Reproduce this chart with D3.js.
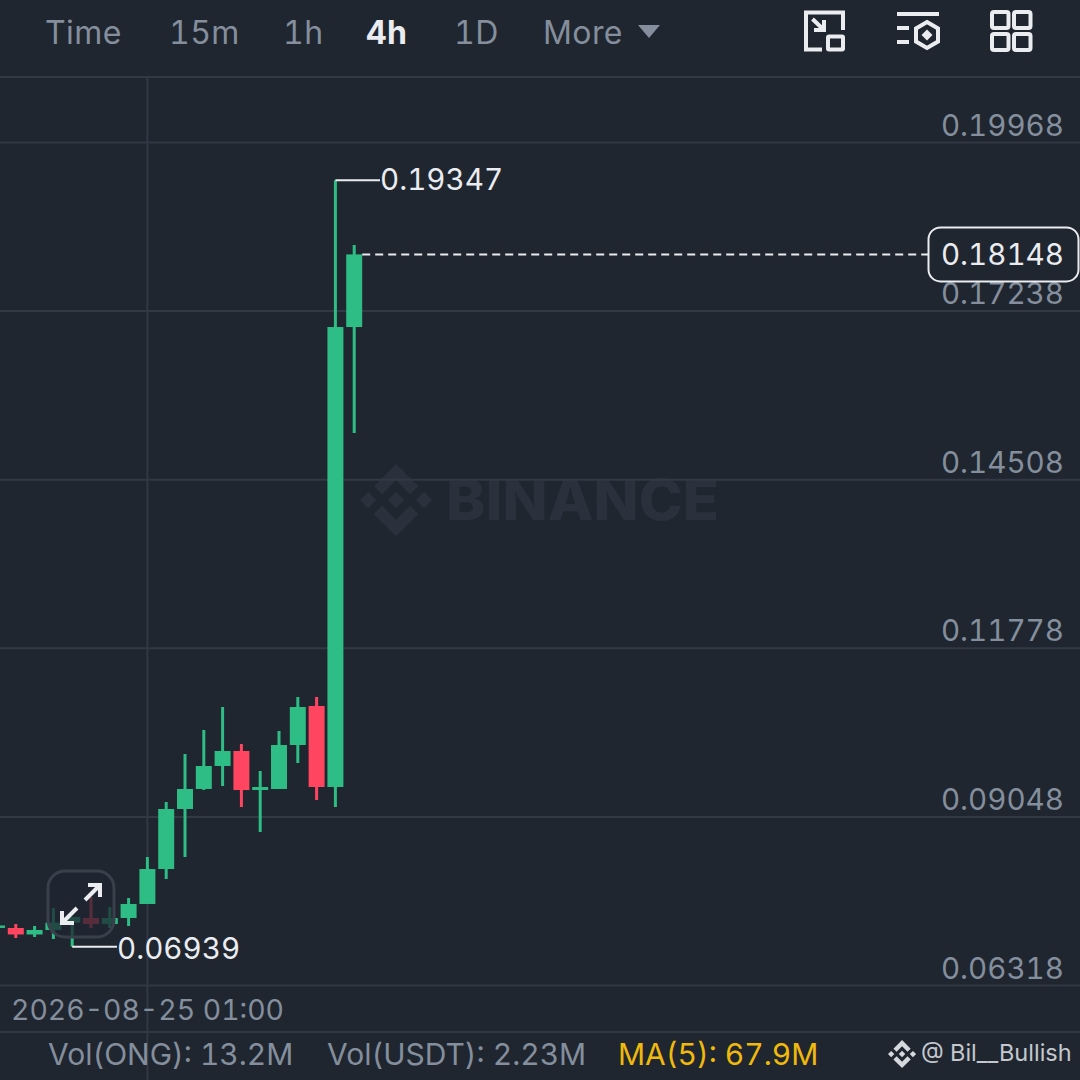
<!DOCTYPE html>
<html lang="en">

<head>
    <meta charset="utf-8">
    <title>ONG/USDT 4h</title>
    <script src="https://d3js.org/d3.v7.min.js"></script>
    <style>
        html, body { margin: 0; padding: 0; background: #1f2630; }
        svg { display: block; }
        text { font-family: Inter, "Noto Sans", sans-serif; font-variant-numeric: tabular-nums; font-feature-settings: "tnum" 1; }
    </style>
</head>

<body>
    <svg id="chart" width="1080" height="1080"></svg>

    <script type="text/javascript">
        // candles
        var times = ["08-23 17:00", "08-23 21:00", "08-24 01:00", "08-24 05:00", "08-24 09:00",
            "08-24 13:00", "08-24 17:00", "08-24 21:00", "08-25 01:00", "08-25 05:00",
            "08-25 09:00", "08-25 13:00", "08-25 17:00", "08-25 21:00", "08-26 01:00",
            "08-26 05:00", "08-26 09:00", "08-26 13:00", "08-26 17:00", "08-26 21:00"];
        var opens = [0.07250, 0.07241, 0.07136, 0.07209, 0.07327, 0.07403, 0.07306, 0.07403, 0.07630, 0.08196,
            0.09168, 0.09492, 0.09864, 0.10107, 0.09475, 0.09492, 0.10204, 0.10836, 0.09524, 0.16972];
        var closes = [0.07282, 0.07136, 0.07209, 0.07327, 0.07419, 0.07306, 0.07403, 0.07630, 0.08196, 0.09168,
            0.09492, 0.09864, 0.10107, 0.09475, 0.09524, 0.10204, 0.10819, 0.09524, 0.16972, 0.18148];
        var highs = [0.07300, 0.07306, 0.07273, 0.07565, 0.07419, 0.07743, 0.07581, 0.07727, 0.08391, 0.09281,
            0.10058, 0.10447, 0.10819, 0.10220, 0.09783, 0.10431, 0.10981, 0.10981, 0.19347, 0.18300];
        var lows = [0.07250, 0.07079, 0.07095, 0.07063, 0.06939, 0.07241, 0.07241, 0.07273, 0.07630, 0.08034,
            0.08391, 0.09475, 0.09540, 0.09200, 0.08795, 0.09492, 0.09913, 0.09314, 0.09200, 0.15256];

        var priceTicks = [0.19968, 0.17238, 0.14508, 0.11778, 0.09048, 0.06318];
        var lastPrice = 0.18148;
        var highMark = { index: 18, value: 0.19347 };
        var lowMark = { index: 4, value: 0.06939 };
        var crosshairTime = "08-25 01:00";

        var intervals = ["Time", "15m", "1h", "4h", "1D", "More"];
        var intervalX = [45, 169, 283, 366, 454, 543];
        var activeInterval = "4h";

        var bg = "#1f2630";
        var gridColor = "#323844";
        var green = "#2ebd85";
        var red = "#ff4560";
        var white = "#eaecef";
        var grey = "#848e9c";

        var svg = d3.select("#chart");

        svg.append("rect").attr("width", 1080).attr("height", 1080).attr("fill", bg);

        var xScale = d3.scaleBand()
            .domain(times)
            .range([-11, 362.2])
            .paddingInner(0.15)
            .paddingOuter(0);

        var yScale = d3.scaleLinear()
            .domain([0.06318, 0.19968])
            .range([985, 142]);

        function cx(i) {
            return xScale(times[i]) + xScale.bandwidth() / 2;
        }

        // frame lines
        [77, 1032].forEach(function(y) {
            svg.append("line").attr("x1", 0).attr("x2", 1080).attr("y1", y).attr("y2", y)
                .attr("stroke", gridColor).attr("stroke-width", 2);
        });

        // watermark
        var logoPath = "M38.73 53.2l24.59-24.58 24.6 24.6 14.3-14.31L63.32 0 24.43 38.9l14.3 14.3z" +
            "M0 63.31l14.3-14.31 14.31 14.31-14.31 14.3z" +
            "M38.73 73.41l24.59 24.59 24.6-24.6 14.31 14.29-38.9 38.91-38.91-38.88z" +
            "M98 63.31l14.3-14.31 14.31 14.3-14.31 14.32z" +
            "M77.83 63.3L63.32 48.78 48.81 63.28l14.51 14.5z";

        svg.append("path").attr("d", logoPath)
            .attr("transform", "translate(360,464) scale(0.57)")
            .attr("fill", "#2b313c");
        svg.append("text").text("BINANCE")
            .attr("x", 446).attr("y", 520)
            .attr("font-size", 56).attr("font-weight", 800)
            .attr("textLength", 273).attr("lengthAdjust", "spacingAndGlyphs")
            .attr("fill", "#2b313c");

        // price axis and grid
        var yAxis = d3.axisRight(yScale)
            .tickValues(priceTicks)
            .tickSize(1080)
            .tickFormat(d3.format(".5f"));

        var axisG = svg.append("g").attr("class", "y-axis").call(yAxis);
        axisG.select(".domain").remove();
        axisG.selectAll("line").attr("stroke", gridColor).attr("stroke-width", 2);
        axisG.selectAll("text")
            .attr("x", 1064).attr("dy", -15)
            .attr("dominant-baseline", "middle")
            .attr("text-anchor", "end")
            .attr("font-size", 29.6)
            .attr("font-family", "Inter, sans-serif")
            .attr("fill", grey);

        // crosshair
        svg.append("line")
            .attr("x1", cx(times.indexOf(crosshairTime))).attr("x2", cx(times.indexOf(crosshairTime)))
            .attr("y1", 78).attr("y2", 1080)
            .attr("stroke", gridColor).attr("stroke-width", 2);

        // candles
        var candles = times.map(function(t, i) {
            return { time: t, i: i, open: opens[i], close: closes[i], high: highs[i], low: lows[i] };
        });

        function candleColor(d) {
            return d.close >= d.open ? green : red;
        }

        var candleG = svg.append("g").attr("class", "candles");

        candleG.selectAll("line")
            .data(candles)
            .enter()
            .append("line")
            .attr("x1", function(d) { return cx(d.i); })
            .attr("x2", function(d) { return cx(d.i); })
            .attr("y1", function(d) { return yScale(d.high); })
            .attr("y2", function(d) { return yScale(d.low); })
            .attr("stroke", candleColor)
            .attr("stroke-width", 3);

        candleG.selectAll("rect")
            .data(candles)
            .enter()
            .append("rect")
            .attr("x", function(d) { return xScale(d.time); })
            .attr("width", xScale.bandwidth())
            .attr("y", function(d) { return yScale(Math.max(d.open, d.close)); })
            .attr("height", function(d) {
                return Math.max(2.5, Math.abs(yScale(d.open) - yScale(d.close)));
            })
            .attr("fill", candleColor);

        // high / low labels
        [[highMark, 380, 2], [lowMark, 117, 4]].forEach(function(m) {
            var mark = m[0];
            var y = yScale(mark.value);
            svg.append("line")
                .attr("x1", cx(mark.index)).attr("x2", m[1])
                .attr("y1", y).attr("y2", y)
                .attr("stroke", white).attr("stroke-width", 2);
            svg.append("text").text(d3.format(".5f")(mark.value))
                .attr("x", m[1]).attr("y", y + m[2])
                .attr("dominant-baseline", "middle")
                .attr("font-size", 29.6)
                .attr("fill", white);
        });

        // last price line and tag
        svg.append("line")
            .attr("x1", cx(19) + 8).attr("x2", 928)
            .attr("y1", yScale(lastPrice)).attr("y2", yScale(lastPrice))
            .attr("stroke", white).attr("stroke-width", 2)
            .attr("stroke-dasharray", "8,5");
        svg.append("rect")
            .attr("x", 928.5).attr("y", yScale(lastPrice) - 27)
            .attr("width", 150).attr("height", 54).attr("rx", 12)
            .attr("fill", bg).attr("stroke", white).attr("stroke-width", 2);
        svg.append("text").text(d3.format(".5f")(lastPrice))
            .attr("x", 1064).attr("y", yScale(lastPrice) + 3)
            .attr("text-anchor", "end").attr("dominant-baseline", "middle")
            .attr("font-size", 29.6).attr("fill", white);

        // expand button over the candles
        svg.append("rect")
            .attr("x", 48).attr("y", 871).attr("width", 66).attr("height", 66).attr("rx", 17)
            .attr("fill", bg).attr("fill-opacity", 0.75)
            .attr("stroke", "#3a404b").attr("stroke-width", 3);
        svg.append("path")
            .attr("d", "M85 900L100 885M88 885H100V897M77 908L62 923M62 911V923H74")
            .attr("fill", "none").attr("stroke", white).attr("stroke-width", 4);

        // header
        svg.selectAll(".interval")
            .data(intervals)
            .enter()
            .append("text")
            .attr("class", "interval")
            .text(function(d) { return d; })
            .attr("x", function(d, i) { return intervalX[i]; })
            .attr("y", 35)
            .attr("dominant-baseline", "middle")
            .attr("font-size", 32)
            .attr("letter-spacing", 0.4)
            .attr("font-weight", function(d) { return d === activeInterval ? 700 : 400; })
            .attr("fill", function(d) { return d === activeInterval ? white : grey; });

        svg.append("path").attr("d", "M638 25H660L649 38z").attr("fill", grey);

        var icons = svg.append("g").attr("fill", "none").attr("stroke", white).attr("stroke-width", 4);
        icons.append("path").attr("d", "M822 49.5H806V12.5H843V30M812.5 19L824 30M814 30H824V20");
        icons.append("rect").attr("x", 828).attr("y", 36.5).attr("width", 15).attr("height", 13).attr("rx", 1);
        icons.append("path").attr("d", "M897 14H939M897 28H909M897 42H909");
        icons.append("path").attr("d", "M927 22L938 28.5V41.5L927 48L916 41.5V28.5z");
        svg.append("path").attr("d", "M927 29.5L932.5 35L927 40.5L921.5 35z").attr("fill", white);
        [[992, 12], [1014, 12], [992, 34], [1014, 34]].forEach(function(p) {
            icons.append("rect").attr("x", p[0]).attr("y", p[1])
                .attr("width", 16.5).attr("height", 16).attr("rx", 2);
        });

        // footer
        svg.append("text").text("2026-08-25 01:00")
            .attr("x", 11).attr("y", 1012).attr("dominant-baseline", "middle")
            .attr("font-size", 28.4).attr("fill", grey);

        var footer = [["Vol(ONG): 13.2M", 48, grey], ["Vol(USDT): 2.23M", 327, grey], ["MA(5): 67.9M", 618, "#f0b90b"]];
        footer.forEach(function(f) {
            svg.append("text").text(f[0])
                .attr("x", f[1]).attr("y", 1057).attr("dominant-baseline", "middle")
                .attr("font-size", 30).attr("fill", f[2]);
        });

        svg.append("path").attr("d", logoPath)
            .attr("transform", "translate(888,1040) scale(0.222)")
            .attr("fill", "#d5d8dd");
        svg.append("text").text("@ Bil__Bullish")
            .attr("x", 921).attr("y", 1055).attr("dominant-baseline", "middle")
            .attr("font-size", 23.5).attr("fill", "#c4c8ce");
    </script>
</body>

</html>
